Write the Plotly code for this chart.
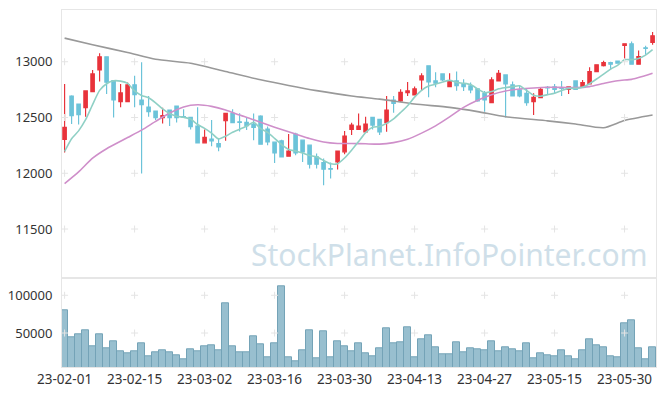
import plotly.graph_objects as go

dates = [
    "23-02-01","23-02-02","23-02-03","23-02-06","23-02-07","23-02-08","23-02-09","23-02-10","23-02-13","23-02-14",
    "23-02-15","23-02-16","23-02-17","23-02-20","23-02-21","23-02-22","23-02-23","23-02-24","23-02-27","23-02-28",
    "23-03-02","23-03-03","23-03-06","23-03-07","23-03-08","23-03-09","23-03-10","23-03-13","23-03-14","23-03-15",
    "23-03-16","23-03-17","23-03-20","23-03-21","23-03-22","23-03-23","23-03-24","23-03-27","23-03-28","23-03-29",
    "23-03-30","23-03-31","23-04-03","23-04-04","23-04-05","23-04-06","23-04-07","23-04-10","23-04-11","23-04-12",
    "23-04-13","23-04-14","23-04-17","23-04-18","23-04-19","23-04-20","23-04-21","23-04-24","23-04-25","23-04-26",
    "23-04-27","23-04-28","23-05-02","23-05-03","23-05-04","23-05-08","23-05-09","23-05-10","23-05-11","23-05-12",
    "23-05-15","23-05-16","23-05-17","23-05-18","23-05-19","23-05-22","23-05-23","23-05-24","23-05-25","23-05-26",
    "23-05-30","23-05-31","23-06-01","23-06-02","23-06-05",
]

open_ = [12303,12693,12621,12588,12732,12927,13044,12831,12642,12642,
         12793,12657,12594,12558,12498,12567,12603,12507,12501,12423,
         12273,12306,12267,12471,12537,12462,12456,12441,12513,12396,
         12279,12291,12153,12351,12297,12252,12147,12096,12042,12102,
         12192,12393,12393,12372,12501,12483,12453,12657,12648,12723,
         12702,12837,12963,12828,12891,12777,12828,12801,12783,12756,
         12717,12633,12828,12882,12792,12747,12717,12642,12678,12771,
         12774,12768,12753,12828,12771,12801,12912,12966,12993,13005,
         13146,13161,12978,13125,13173]
high = [12801,12700,12621,12738,12927,13077,13044,12831,12801,12813,
        12874,12996,12693,12558,12588,12567,12603,12575,12501,12591,
        12393,12477,12312,12537,12573,12539,12501,12537,12520,12420,
        12279,12300,12351,12363,12297,12252,12177,12132,12096,12198,
        12378,12453,12537,12507,12501,12483,12693,12693,12753,12819,
        12777,12897,12963,12906,12891,12897,12912,12843,12813,12756,
        12738,12861,12927,12882,12822,12783,12762,12717,12771,12783,
        12801,12828,12774,12828,12837,12951,12972,13008,12999,13008,
        13161,13182,13101,13143,13266]
low = [12186,12441,12438,12507,12732,12822,12711,12501,12591,12642,
       12593,11997,12507,12477,12447,12423,12456,12495,12393,12273,
       12273,12243,12198,12291,12453,12374,12387,12297,12261,12252,
       12093,12147,12147,12162,12102,12042,12042,11892,11952,12033,
       12171,12342,12390,12372,12393,12342,12372,12543,12639,12693,
       12702,12738,12681,12771,12828,12777,12741,12738,12717,12642,
       12552,12633,12822,12501,12693,12681,12606,12522,12678,12711,
       12711,12693,12711,12753,12771,12801,12912,12957,12927,12987,
       13023,12978,12978,13062,13152]
close = [12411,12516,12525,12738,12891,13044,12816,12657,12720,12792,
         12704,12615,12552,12498,12516,12498,12498,12500,12417,12273,
         12321,12291,12237,12537,12453,12456,12426,12411,12261,12282,
         12183,12147,12198,12183,12192,12081,12081,12036,12036,12198,
         12333,12432,12423,12441,12432,12372,12567,12627,12726,12738,
         12756,12873,12819,12807,12837,12828,12786,12777,12747,12648,
         12657,12837,12897,12801,12693,12693,12633,12681,12753,12765,
         12753,12762,12774,12753,12813,12912,12972,12993,12978,12987,
         13161,12978,13047,13120,13233]
volume = [80100,44300,48300,53600,32400,48300,29700,39000,25700,23100,
          25700,36350,19100,24400,27100,24400,20400,15100,28400,25700,
          32400,33700,27100,89400,32400,24400,24400,45600,35000,17800,
          36350,111900,17800,12500,27100,53600,16500,52300,17800,39000,
          32400,25700,36350,23100,19100,29700,56200,36350,37700,57600,
          17800,41700,47000,31000,21700,21700,37700,24400,29700,28400,
          27100,39000,25700,31000,28400,25700,36350,16500,23100,20400,
          19100,27100,19100,15100,27100,41700,33700,31000,19100,17800,
          62900,66900,29700,15100,31000]

# short moving average (teal), one value per session
ma_short = [12195,12310,12380,12480,12616,12743,12803,12829,12826,12806,
            12738,12698,12677,12632,12577,12536,12512,12502,12486,12437,
            12402,12360,12308,12332,12368,12395,12422,12457,12401,12367,
            12313,12257,12214,12199,12181,12160,12147,12115,12085,12086,
            12137,12207,12284,12365,12412,12420,12447,12488,12545,12606,
            12683,12744,12782,12799,12818,12833,12815,12807,12795,12757,
            12723,12733,12757,12768,12777,12784,12743,12700,12691,12705,
            12717,12743,12761,12761,12771,12803,12845,12889,12934,12968,
            13018,13019,13030,13059,13108]

# medium moving average (pink), read at selected sessions
ma_mid_idx = [0,2,4,6,9,11,13,15,17,19,21,23,25,27,29,31,33,35,37,39,41,43,45,47,49,
              51,53,55,57,59,61,63,65,67,69,71,73,75,77,79,81,82,84]
ma_mid_val = [11907,12012,12135,12220,12320,12387,12465,12540,12595,12614,12600,12568,
              12522,12480,12435,12392,12352,12312,12280,12267,12267,12264,12261,12275,
              12305,12360,12425,12505,12591,12655,12705,12738,12755,12765,12771,12770,
              12768,12777,12805,12830,12842,12858,12897]

# long moving average (gray), read at selected sessions
ma_long_idx = [0,4,9,13,18,23,28,32,36,41,45,50,55,59,63,69,73,77,80,84]
ma_long_val = [13212,13152,13083,13022,12987,12913,12838,12787,12741,12693,12665,
               12621,12591,12553,12507,12470,12441,12408,12473,12522]

price_ticks = [11500, 12000, 12500, 13000]
vol_ticks = [50000, 100000]
x_tick_labels = dates[::10]

FONT = "Noto Sans"
grid_col = "#e4e4e4"
border_col = "#e6e6e6"

fig = go.Figure()

fig.add_trace(go.Scatter(
    x=[dates[i] for i in ma_long_idx], y=ma_long_val, mode="lines",
    line=dict(color="#999999", width=1.6, shape="spline", smoothing=0.6),
    hoverinfo="skip", xaxis="x", yaxis="y"))
fig.add_trace(go.Scatter(
    x=[dates[i] for i in ma_mid_idx], y=ma_mid_val, mode="lines",
    line=dict(color="#cf8fca", width=1.6, shape="spline", smoothing=0.6),
    hoverinfo="skip", xaxis="x", yaxis="y"))
fig.add_trace(go.Scatter(
    x=dates, y=ma_short, mode="lines",
    line=dict(color="#8fd0c5", width=1.6, shape="spline", smoothing=0.6),
    hoverinfo="skip", xaxis="x", yaxis="y"))

fig.add_trace(go.Candlestick(
    x=dates, open=open_, high=high, low=low, close=close,
    increasing=dict(line=dict(color="#e8333b", width=1.2), fillcolor="#e8333b"),
    decreasing=dict(line=dict(color="#6cc3d9", width=1.2), fillcolor="#6cc3d9"),
    whiskerwidth=0, xaxis="x", yaxis="y"))

fig.add_trace(go.Bar(
    x=dates, y=volume, base=0,
    marker=dict(color="#98bfcf", line=dict(color="#74a3b7", width=1)),
    xaxis="x2", yaxis="y2", hoverinfo="skip"))

# faint "+" grid marks at tick intersections
gx, gy, gx2, gy2 = [], [], [], []
for xl in x_tick_labels:
    for yv in price_ticks:
        gx.append(xl); gy.append(yv)
    for yv in vol_ticks:
        gx2.append(xl); gy2.append(yv)
fig.add_trace(go.Scatter(x=gx, y=gy, mode="markers", xaxis="x", yaxis="y",
                         marker=dict(symbol="cross-thin", size=5, line=dict(color=grid_col, width=1)),
                         hoverinfo="skip"))
fig.add_trace(go.Scatter(x=gx2, y=gy2, mode="markers", xaxis="x2", yaxis="y2",
                         marker=dict(symbol="cross-thin", size=5, line=dict(color=grid_col, width=1)),
                         hoverinfo="skip"))

xcommon = dict(type="category", categoryorder="array", categoryarray=dates,
               range=[-0.37, 84.49], showgrid=False, zeroline=False,
               showline=True, linecolor=border_col, linewidth=1, mirror=True,
               ticks="", fixedrange=True, automargin=False)

# the page body adds an 8 px offset; the figure is sized so the plot area lands
# where it does in the reference
fig.update_layout(
    width=657, height=380,
    margin=dict(l=54, r=9, t=2, b=21, pad=0, autoexpand=False),
    paper_bgcolor="white", plot_bgcolor="white",
    showlegend=False,
    bargap=0,
    font=dict(family=FONT, size=13, color="#333333"),
    xaxis=dict(xcommon, anchor="y", showticklabels=False, rangeslider=dict(visible=False)),
    xaxis2=dict(xcommon, anchor="y2", matches="x", showticklabels=True,
                tickmode="array", tickvals=x_tick_labels, ticktext=x_tick_labels,
                tickangle=0, tickfont=dict(size=13.5, color="#333333")),
    yaxis=dict(domain=[0.25, 1.0], range=[11063, 13464], tickmode="array",
               tickvals=price_ticks, ticktext=[str(v) for v in price_ticks],
               showgrid=False, zeroline=False, showline=True, linecolor=border_col,
               mirror=True, ticks="", ticklabelstandoff=6, automargin=False,
               tickfont=dict(size=13, color="#333333")),
    yaxis2=dict(domain=[0.0, 0.2485], range=[4970, 122550], tickmode="array",
                tickvals=vol_ticks, ticktext=[str(v) for v in vol_ticks],
                showgrid=False, zeroline=False, showline=True, linecolor=border_col,
                mirror=True, ticks="", ticklabelstandoff=6, automargin=False,
                tickfont=dict(size=13, color="#333333")),
    annotations=[dict(
        text="StockPlanet.InfoPointer.com", xref="paper", yref="paper",
        x=0.99, y=0.3165, xanchor="right", yanchor="middle", showarrow=False,
        font=dict(family=FONT, size=30, color="#cfdfe9"))],
)

fig.write_html("out.html")
